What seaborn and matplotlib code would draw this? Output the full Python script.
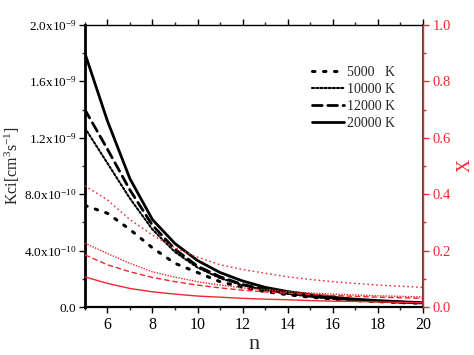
import numpy as np
import pandas as pd
import matplotlib
matplotlib.use("Agg")
import matplotlib.pyplot as plt
import seaborn as sns
from matplotlib.ticker import MultipleLocator

# ---------------- data ----------------
n_levels = [5, 6, 7, 8, 9, 10, 11, 12, 13, 14, 15, 16, 17, 18, 19, 20]
SCALE = 1e-9  # Kci values below are in units of 1e-9 cm^3 s^-1

kci_5000 = [0.72, 0.665, 0.55, 0.42, 0.31, 0.245, 0.18, 0.14, 0.11, 0.088, 0.07, 0.057, 0.047, 0.039, 0.032, 0.027]
kci_10000 = [1.27, 1.02, 0.77, 0.55, 0.39, 0.28, 0.205, 0.155, 0.12, 0.094, 0.075, 0.06, 0.049, 0.04, 0.033, 0.027]
kci_12000 = [1.40, 1.12, 0.83, 0.58, 0.41, 0.29, 0.215, 0.16, 0.125, 0.098, 0.078, 0.063, 0.051, 0.042, 0.035, 0.029]
kci_20000 = [1.80, 1.32, 0.91, 0.62, 0.45, 0.33, 0.245, 0.185, 0.14, 0.11, 0.088, 0.07, 0.056, 0.046, 0.038, 0.031]

x_5000 = [0.43, 0.38, 0.31, 0.255, 0.21, 0.177, 0.15, 0.133, 0.12, 0.107, 0.098, 0.09, 0.084, 0.078, 0.074, 0.07]
x_10000 = [0.226, 0.19, 0.155, 0.125, 0.106, 0.09, 0.078, 0.068, 0.061, 0.055, 0.05, 0.046, 0.043, 0.04, 0.038, 0.036]
x_12000 = [0.185, 0.15, 0.125, 0.105, 0.09, 0.078, 0.068, 0.06, 0.054, 0.049, 0.045, 0.041, 0.038, 0.035, 0.033, 0.031]
x_20000 = [0.107, 0.084, 0.066, 0.054, 0.046, 0.039, 0.035, 0.031, 0.028, 0.026, 0.023, 0.021, 0.02, 0.018, 0.017, 0.015]

series_labels = ["5000   K", "10000 K", "12000 K", "20000 K"]

left_tick_vals = [0.0, 0.4, 0.8, 1.2, 1.6, 2.0]
left_tick_labels = ["0.0", "4.0x10$^{-10}$", "8.0x10$^{-10}$", "1.2x10$^{-9}$", "1.6x10$^{-9}$", "2.0x10$^{-9}$"]
right_tick_vals = [0.0, 0.2, 0.4, 0.6, 0.8, 1.0]
x_tick_vals = [6, 8, 10, 12, 14, 16, 18, 20]

# ---------------- style ----------------
sns.set_theme(style="white")
plt.rcParams["font.family"] = ["Liberation Serif", "DejaVu Serif"]
plt.rcParams["mathtext.fontset"] = "custom"
plt.rcParams["mathtext.rm"] = "Liberation Serif"
plt.rcParams["mathtext.it"] = "Liberation Serif:italic"
plt.rcParams["mathtext.bf"] = "Liberation Serif:bold"

RED = "#f0282d"
black_styles = [
    dict(linestyle=(0, (0.8, 2.8)), linewidth=2.2),
    dict(linestyle=(0, (1.0, 1.0)), linewidth=1.5),
    dict(linestyle=(0, (3.5, 2.0)), linewidth=2.0),
    dict(linestyle="-", linewidth=2.0),
]
red_styles = [
    dict(linestyle=(0, (1.2, 2.0)), linewidth=1.0),
    dict(linestyle=(0, (1.0, 1.0)), linewidth=1.0),
    dict(linestyle=(0, (4.0, 2.0)), linewidth=1.0),
    dict(linestyle="-", linewidth=1.0),
]

fig = plt.figure(figsize=(4.74, 3.55), dpi=100)
ax = fig.add_axes([0.179, 0.135, 0.713, 0.795])
ax2 = ax.twinx()

n_arr = np.array(n_levels)
for vals, lab, st in zip([kci_5000, kci_10000, kci_12000, kci_20000], series_labels, black_styles):
    sns.lineplot(x=n_arr, y=np.array(vals) * SCALE, ax=ax, color="black", label=lab,
                 dash_capstyle="round", **st)

for vals, st in zip([x_5000, x_10000, x_12000, x_20000], red_styles):
    sns.lineplot(x=n_arr, y=np.array(vals), ax=ax2, color=RED, legend=False, **st)

# ---------------- axes ----------------
ax.set_xlim(5, 20)
ax.set_ylim(0, 2.0e-9)
ax2.set_ylim(0, 1.0)

ax.set_xticks(x_tick_vals)
ax.set_xticklabels([str(v) for v in x_tick_vals])
ax.xaxis.set_minor_locator(MultipleLocator(1))
ax.set_yticks([v * SCALE for v in left_tick_vals])
ax.set_yticklabels(left_tick_labels)
ax.yaxis.set_minor_locator(MultipleLocator(0.2e-9))

ax2.set_yticks(right_tick_vals)
ax2.set_yticklabels([f"{v:.1f}" for v in right_tick_vals])
ax2.yaxis.set_minor_locator(MultipleLocator(0.1))

ax.tick_params(axis="both", which="major", direction="out", length=4, width=1,
               colors="black", pad=2)
ax.tick_params(axis="x", which="major", labelsize=11.5, pad=3)
ax.tick_params(axis="y", which="major", labelsize=9.5)
ax.tick_params(axis="both", which="minor", direction="out", length=2.5, width=1)
ax.tick_params(axis="x", which="both", top=True, bottom=True)
ax.tick_params(axis="y", which="both", left=True, right=False)
ax2.tick_params(axis="y", which="major", direction="out", length=4, width=1,
                colors=RED, labelsize=10.5, pad=3)
ax2.tick_params(axis="y", which="minor", direction="out", length=2.5, width=1, colors=RED)

for a in (ax, ax2):
    a.grid(False)
ax.spines["left"].set_linewidth(2.0)
ax.spines["bottom"].set_linewidth(1.6)
ax.spines["top"].set_linewidth(1.0)
ax.spines["left"].set_color("black")
ax.spines["bottom"].set_color("black")
ax.spines["top"].set_color("black")
ax2.spines["right"].set_color(RED)
ax2.spines["right"].set_linewidth(1.0)
ax2.spines["left"].set_visible(False)
ax2.spines["top"].set_visible(False)
ax2.spines["bottom"].set_visible(False)

ax.set_xlabel("n", fontsize=16)
ax.xaxis.set_label_coords(0.5, -0.1)
ax.set_ylabel("Kci[cm$^{3}$s$^{-1}$]", fontsize=11.5)
ax.yaxis.set_label_coords(-0.185, 0.5)
ax2.set_ylabel("X", fontsize=13, color=RED, rotation=90)
ax2.yaxis.set_label_coords(1.1, 0.5)

leg = ax.legend(loc="upper left", bbox_to_anchor=(0.655, 0.875), frameon=False,
                fontsize=10, handlelength=2.3, handletextpad=0.25, labelspacing=0.3,
                borderaxespad=0)

fig.savefig("out.png", dpi=100)
